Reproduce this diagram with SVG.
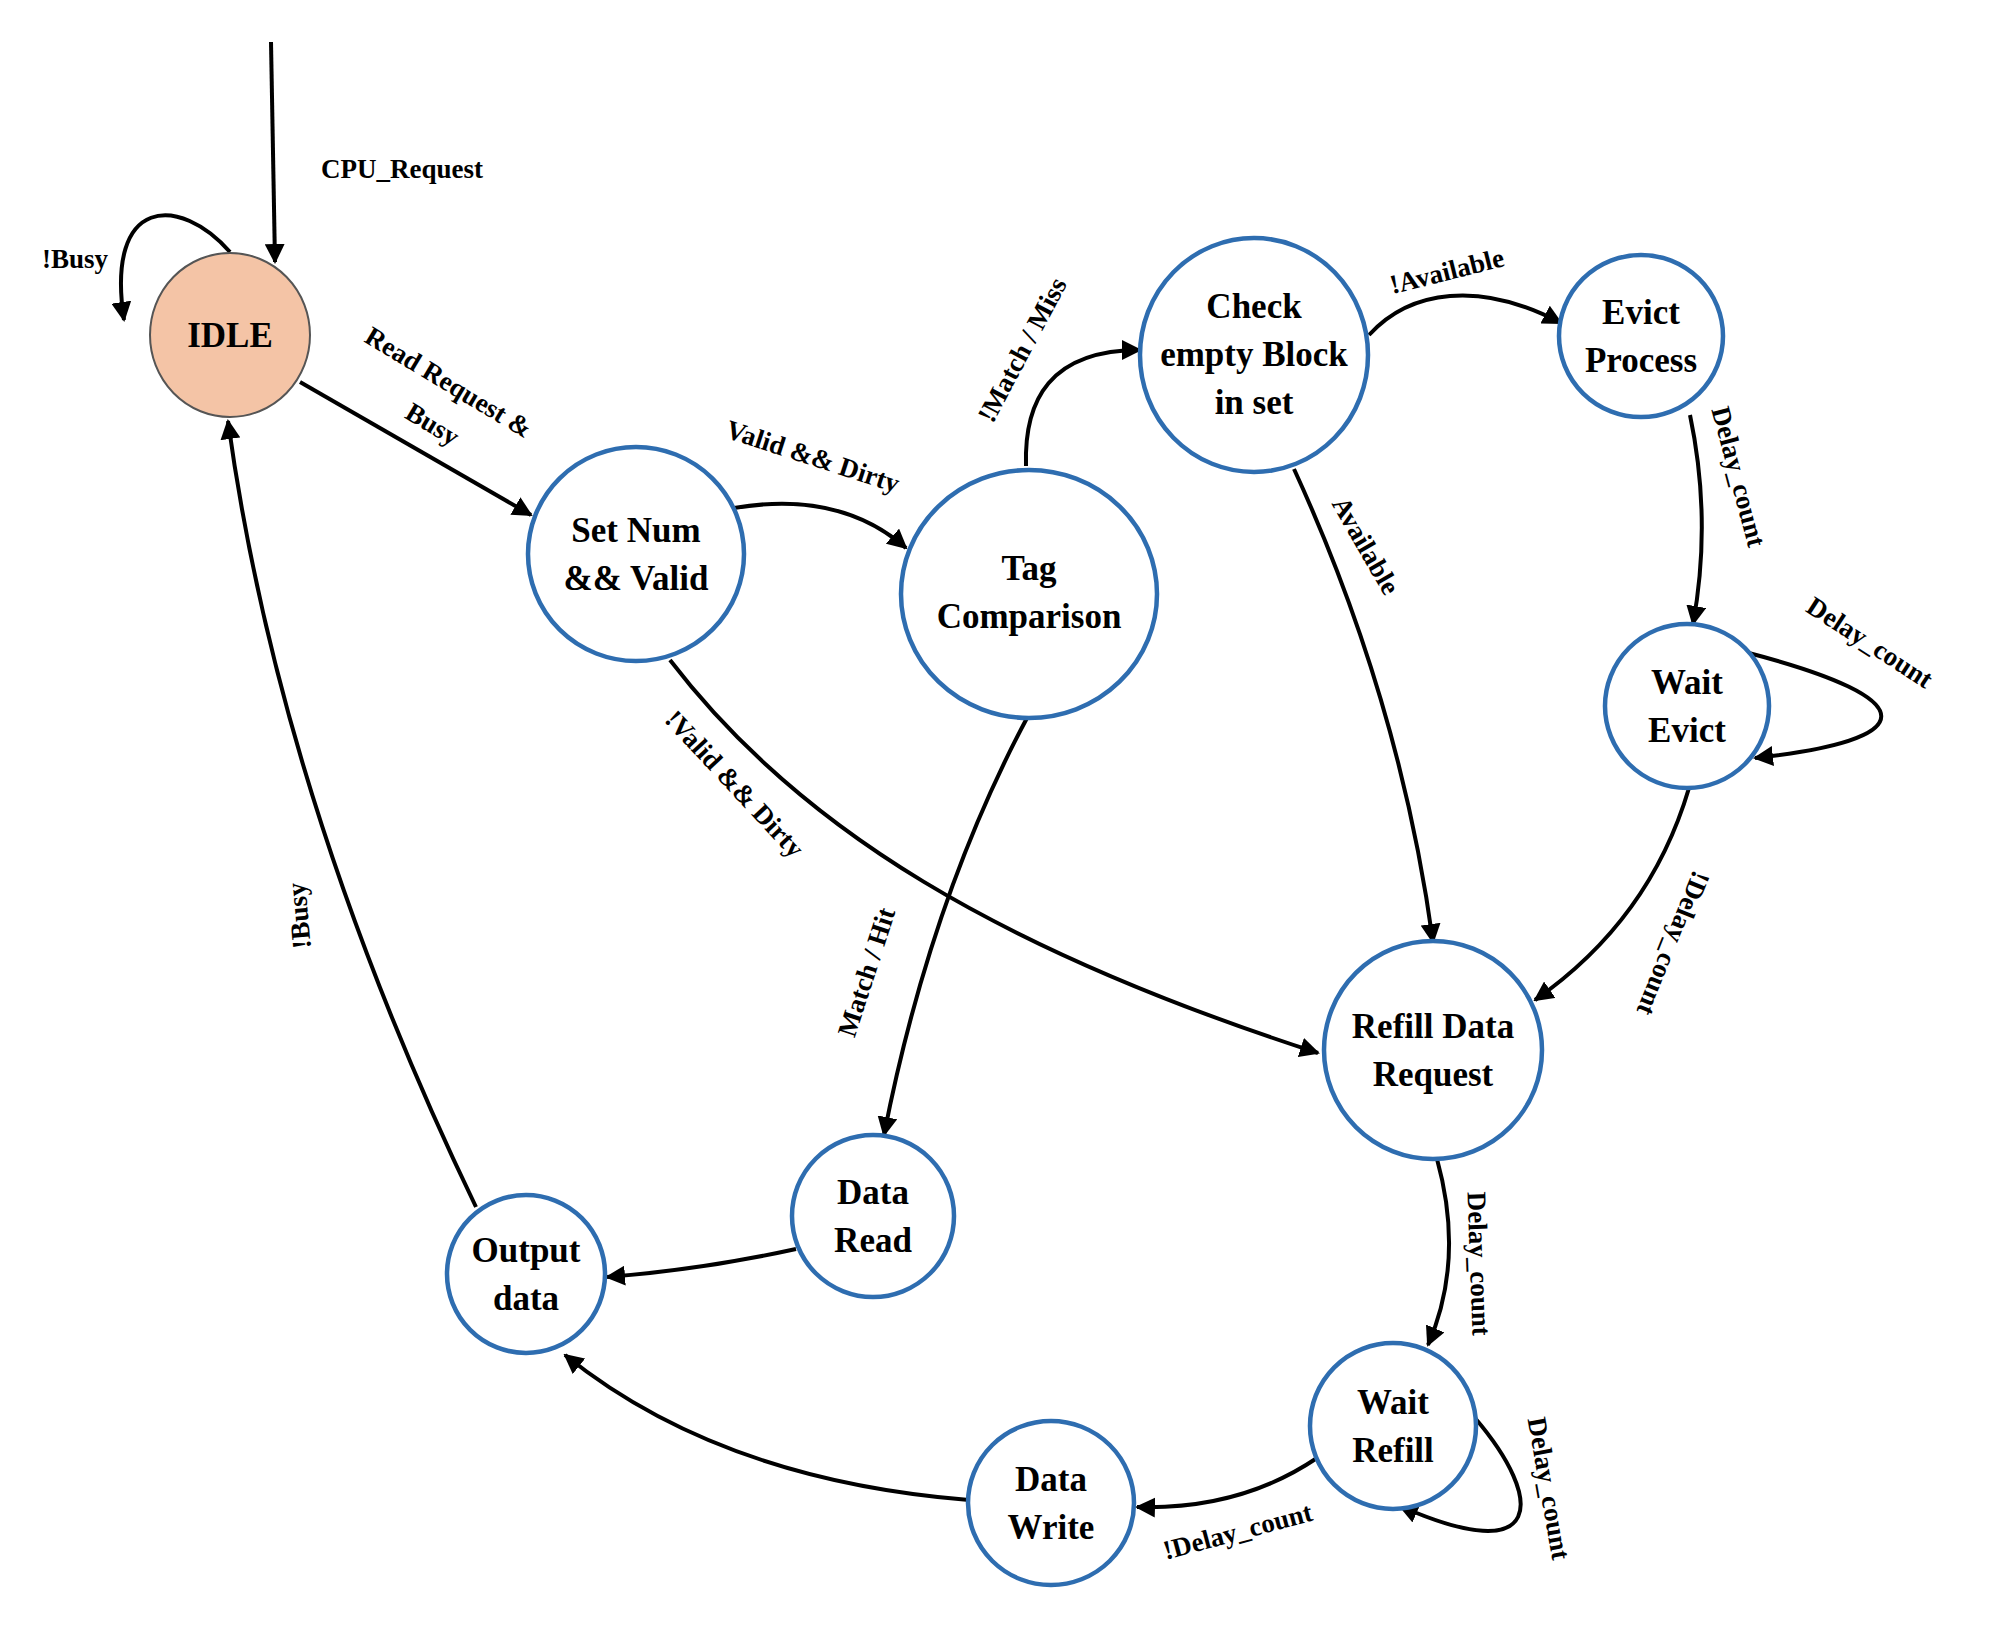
<svg xmlns="http://www.w3.org/2000/svg" width="2002" height="1634" viewBox="0 0 2002 1634">
<style>
.n{fill:#fff;stroke:#2E6DB0;stroke-width:4.5}
.t{font-family:"Liberation Serif",serif;font-weight:bold;font-size:35px;fill:#000;text-anchor:middle}
.l{font-family:"Liberation Serif",serif;font-weight:bold;font-size:27px;fill:#000;text-anchor:middle}
.e{fill:none;stroke:#000;stroke-width:4;marker-end:url(#a)}
</style>
<defs><marker id="a" viewBox="0 0 10 10" refX="9" refY="5" markerWidth="5" markerHeight="5" orient="auto" markerUnits="strokeWidth"><path d="M0,0 L10,5 L0,10 z" fill="#000"/></marker></defs>
<rect width="2002" height="1634" fill="#fff"/>
<g id="connectors">
<path class="e" d="M271,42 L275,262"/>
<path class="e" d="M230,252 C180,195 105,195 124,320"/>
<path class="e" d="M300,382 L531,515"/>
<path class="e" d="M734,508 Q840,490 906,548"/>
<path class="e" d="M1026,466 C1024,400 1050,350 1140,350"/>
<path class="e" d="M1369,335 C1410,290 1480,280 1561,323"/>
<path class="e" d="M1690,415 Q1712,520 1693,624"/>
<path class="e" d="M1745,652 C1930,700 1920,740 1755,758"/>
<path class="e" d="M1294,469 Q1400,700 1433,942"/>
<path class="e" d="M1689,788 Q1650,920 1535,1000"/>
<path class="e" d="M670,660 C800,830 1000,950 1318,1053"/>
<path class="e" d="M1027,718 Q930,900 884,1135"/>
<path class="e" d="M796,1249 Q700,1270 607,1277"/>
<path class="e" d="M476,1207 Q280,800 228,421"/>
<path class="e" d="M1437,1159 Q1465,1260 1428,1345"/>
<path class="e" d="M1475,1418 C1545,1500 1545,1570 1400,1506"/>
<path class="e" d="M1317,1458 Q1240,1510 1137,1507"/>
<path class="e" d="M969,1500 Q720,1480 565,1355"/>
<text class="l" x="402" y="178">CPU_Request</text>
<text class="l" x="75" y="268">!Busy</text>
<text class="l" transform="translate(444,390) rotate(31)">Read Request &amp;</text>
<text class="l" transform="translate(428,432) rotate(31)">Busy</text>
<text class="l" transform="translate(810,465) rotate(18)">Valid &amp;&amp; Dirty</text>
<text class="l" transform="translate(1030,354) rotate(-62)">!Match / Miss</text>
<text class="l" transform="translate(1449,280) rotate(-14)">!Available</text>
<text class="l" transform="translate(1730,479) rotate(75)">Delay_count</text>
<text class="l" transform="translate(1865,650) rotate(33)">Delay_count</text>
<text class="l" transform="translate(1358,550) rotate(60)">Available</text>
<text class="l" transform="translate(1665,940) rotate(112)">!Delay_count</text>
<text class="l" transform="translate(728,790) rotate(47)">!Valid &amp;&amp; Dirty</text>
<text class="l" transform="translate(875,975) rotate(-72)">Match / Hit</text>
<text class="l" transform="translate(308,915) rotate(-95)">!Busy</text>
<text class="l" transform="translate(1470,1264) rotate(88)">Delay_count</text>
<text class="l" transform="translate(1540,1490) rotate(80)">Delay_count</text>
<text class="l" transform="translate(1240,1540) rotate(-15)">!Delay_count</text>
</g>
<g id="idle"><ellipse cx="230" cy="335" rx="80" ry="82" fill="#F4C4A6" stroke="#555" stroke-width="2"/><text class="t" x="230" y="347">IDLE</text></g>
<g id="setnum"><ellipse class="n" cx="636" cy="554" rx="108" ry="107"/><text class="t" x="636" y="542">Set Num</text><text class="t" x="636" y="590">&amp;&amp; Valid</text></g>
<g id="tag"><ellipse class="n" cx="1029" cy="594" rx="128" ry="124"/><text class="t" x="1029" y="580">Tag</text><text class="t" x="1029" y="628">Comparison</text></g>
<g id="check"><ellipse class="n" cx="1254" cy="355" rx="114" ry="117"/><text class="t" x="1254" y="318">Check</text><text class="t" x="1254" y="366">empty Block</text><text class="t" x="1254" y="414">in set</text></g>
<g id="evict"><ellipse class="n" cx="1641" cy="336" rx="82" ry="81"/><text class="t" x="1641" y="324">Evict</text><text class="t" x="1641" y="372">Process</text></g>
<g id="waitevict"><ellipse class="n" cx="1687" cy="706" rx="82" ry="82"/><text class="t" x="1687" y="694">Wait</text><text class="t" x="1687" y="742">Evict</text></g>
<g id="refill"><ellipse class="n" cx="1433" cy="1050" rx="109" ry="109"/><text class="t" x="1433" y="1038">Refill Data</text><text class="t" x="1433" y="1086">Request</text></g>
<g id="waitrefill"><ellipse class="n" cx="1393" cy="1426" rx="83" ry="83"/><text class="t" x="1393" y="1414">Wait</text><text class="t" x="1393" y="1462">Refill</text></g>
<g id="datawrite"><ellipse class="n" cx="1051" cy="1503" rx="83" ry="82"/><text class="t" x="1051" y="1491">Data</text><text class="t" x="1051" y="1539">Write</text></g>
<g id="dataread"><ellipse class="n" cx="873" cy="1216" rx="81" ry="81"/><text class="t" x="873" y="1204">Data</text><text class="t" x="873" y="1252">Read</text></g>
<g id="output"><ellipse class="n" cx="526" cy="1274" rx="79" ry="79"/><text class="t" x="526" y="1262">Output</text><text class="t" x="526" y="1310">data</text></g>
</svg>
